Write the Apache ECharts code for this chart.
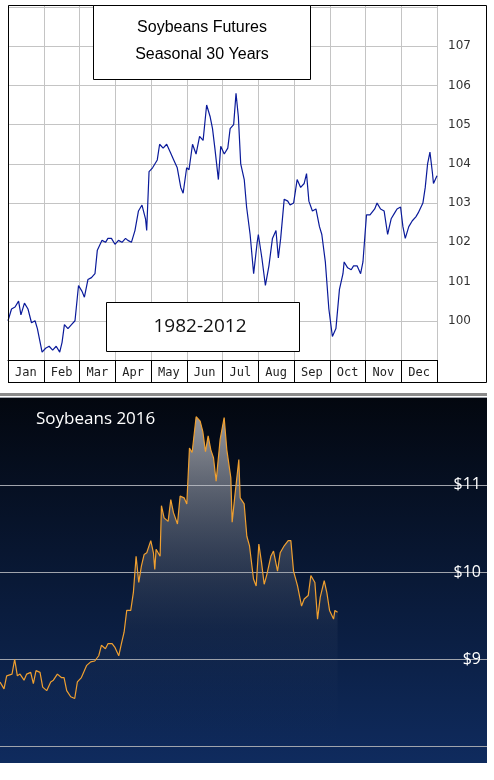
<!DOCTYPE html>
<html>
<head>
<meta charset="utf-8">
<script src="https://cdn.jsdelivr.net/npm/echarts@6/dist/echarts.min.js"></script>
<style>
  html, body { margin: 0; padding: 0; background: #fff; }
  #chart { width: 494px; height: 780px; }
</style>
</head>
<body>
<div id="chart"></div>
<script>
// seasonal 30y (1982-2012), day of year -> index
const months = ['Jan', 'Feb', 'Mar', 'Apr', 'May', 'Jun', 'Jul', 'Aug', 'Sep', 'Oct', 'Nov', 'Dec'];
const seasonDays = [0,3,6,9,11,14,17,20,23,25,27,29,32,35,38,41,44,46,48,51,54,57,60,63,65,68,71,74,76,80,83,85,88,91,94,97,100,102,105,108,111,114,117,118,120,123,127,129,132,135,138,141,144,147,149,152,154,157,160,163,166,169,172,174,176,179,181,184,187,189,192,194,196,198,201,203,206,209,212,213,216,219,222,225,228,230,232,235,238,240,243,246,249,252,254,256,259,262,265,267,270,273,276,279,282,285,286,289,292,294,297,300,302,305,308,312,314,317,320,323,326,329,331,334,336,338,341,344,347,349,353,355,357,359,361,362,365];
const seasonVals = [100.0,100.3,100.35,100.5,100.15,100.45,100.3,99.95,100.0,99.8,99.5,99.2,99.3,99.35,99.25,99.35,99.2,99.45,99.9,99.8,99.9,100.0,100.9,100.75,100.6,101.05,101.1,101.2,101.8,102.05,102.0,102.1,102.1,101.95,102.05,102.0,102.1,102.05,102.0,102.3,102.8,102.95,102.6,102.3,103.8,103.9,104.1,104.5,104.4,104.5,104.3,104.1,103.9,103.4,103.25,103.9,103.85,104.5,104.25,104.7,104.6,105.5,105.2,104.9,104.4,103.6,104.45,104.25,104.4,104.9,105.0,105.8,105.2,104.0,103.6,102.9,102.2,101.2,102.0,102.2,101.6,100.9,101.4,102.1,102.3,101.6,102.1,103.1,103.05,102.95,103.0,103.6,103.4,103.5,103.75,103.05,102.8,102.85,102.4,102.2,101.5,100.3,99.6,99.8,100.8,101.2,101.5,101.35,101.3,101.4,101.4,101.2,101.5,102.7,102.7,102.85,103.0,102.85,102.8,102.2,102.6,102.75,102.85,102.9,102.4,102.1,102.4,102.55,102.65,102.75,103.0,103.4,104.0,104.3,103.8,103.5,103.7];
const seasonTicks = [100, 101, 102, 103, 104, 105, 106, 107];

// soybeans 2016 ($/bu)
const beanDays = [0,3,5,9,11,13,15,18,20,23,25,27,30,32,35,38,40,43,46,48,50,53,56,58,61,65,68,71,74,76,79,81,84,86,89,91,93,95,98,100,102,104,106,108,110,113,115,116,117,120,121,123,126,128,130,133,135,138,140,142,144,147,150,152,154,156,158,160,162,165,168,170,173,174,176,179,180,183,185,187,190,192,194,196,198,200,203,205,208,210,213,216,218,220,223,226,228,231,233,236,238,240,243,245,247,250,251,253];
const beanVals = [8.74,8.66,8.81,8.83,9.0,8.81,8.83,8.76,8.83,8.85,8.72,8.87,8.85,8.68,8.64,8.74,8.76,8.83,8.79,8.79,8.64,8.57,8.55,8.74,8.79,8.93,8.97,8.98,9.04,9.16,9.12,9.18,9.18,9.14,9.04,9.18,9.31,9.56,9.56,9.77,10.18,9.88,10.07,10.20,10.22,10.36,10.22,10.03,10.26,10.18,10.76,10.62,10.58,10.83,10.68,10.55,10.87,10.85,10.78,11.42,11.37,11.78,11.73,11.61,11.38,11.56,11.40,11.31,11.04,11.52,11.77,11.40,11.08,10.57,10.87,11.29,10.85,10.78,10.41,10.30,9.92,9.84,10.32,10.11,9.86,9.97,10.18,10.24,10.01,10.22,10.30,10.36,10.36,10.01,9.84,9.61,9.69,9.73,9.96,9.88,9.46,9.71,9.90,9.76,9.56,9.46,9.56,9.54];
const beanTicks = [9, 10, 11];

const seasonData = seasonDays.map((d, i) => [d, seasonVals[i]]);
const beanData = beanDays.map((d, i) => [d, beanVals[i]]);

const chart = echarts.init(document.getElementById('chart'));
chart.setOption({
  animation: false,
  backgroundColor: '#fff',
  graphic: [
    { type: 'rect', z: -10, shape: { x: 0, y: 397, width: 487, height: 366 },
      style: { fill: new echarts.graphic.LinearGradient(0, 0, 0, 1, [
        { offset: 0, color: '#03070f' }, { offset: 1, color: '#0f2b5e' }]) } },
    { type: 'line', z: 5, shape: { x1: 0, y1: 394.5, x2: 487, y2: 394.5 }, style: { stroke: '#8a8a8a', lineWidth: 3 } },
    { type: 'rect', z: 5, shape: { x: 8.5, y: 5.5, width: 478, height: 377 }, style: { fill: null, stroke: '#000', lineWidth: 1 } },
    { type: 'rect', z: 10, shape: { x: 93.5, y: 5.5, width: 217, height: 74 }, style: { fill: '#fff', stroke: '#000', lineWidth: 1 } },
    { type: 'text', z: 11, x: 202, y: 28, style: { text: 'Soybeans Futures', font: '16px "Liberation Sans"', fill: '#000', align: 'center', verticalAlign: 'middle' } },
    { type: 'text', z: 11, x: 202, y: 55, style: { text: 'Seasonal 30 Years', font: '16px "Liberation Sans"', fill: '#000', align: 'center', verticalAlign: 'middle' } },
    { type: 'rect', z: 10, shape: { x: 106.5, y: 302.5, width: 193, height: 49 }, style: { fill: '#fff', stroke: '#000', lineWidth: 1 } },
    { type: 'text', z: 11, x: 200, y: 327, style: { text: '1982-2012', font: '19px "Open Sans"', fill: '#111', align: 'center', verticalAlign: 'middle' } },
    { type: 'text', z: 11, x: 36, y: 419, style: { text: 'Soybeans 2016', font: '17px "Open Sans"', fill: '#fff', verticalAlign: 'middle' } }
  ],
  grid: [
    { left: 8, top: 5, width: 429, height: 355 },
    { left: 8, top: 5, width: 429, height: 355 },
    { left: 0, top: 397.5, width: 487, height: 349 }
  ],
  xAxis: [
    { type: 'category', gridIndex: 0, data: months, boundaryGap: true,
      axisLine: { lineStyle: { color: '#000', width: 1 } },
      axisTick: { show: true, length: 23, interval: 0, lineStyle: { color: '#000' } },
      axisLabel: { interval: 0, margin: 7, color: '#222', fontFamily: 'DejaVu Sans Mono', fontSize: 12 },
      splitLine: { show: true, interval: 0, lineStyle: { color: '#c4c4c4' } } },
    { type: 'value', gridIndex: 1, min: 0, max: 365, show: false },
    { type: 'value', gridIndex: 2, min: 0, max: 365, show: false }
  ],
  yAxis: [
    { type: 'value', gridIndex: 0, position: 'right', min: 99, max: 108.05, interval: 1,
      axisLine: { show: false }, axisTick: { show: false },
      axisLabel: { margin: 11, color: '#333', fontFamily: 'DejaVu Sans', fontSize: 12,
        formatter: v => seasonTicks.includes(v) ? String(v) : '' },
      splitLine: { lineStyle: { color: '#c4c4c4' } } },
    { type: 'value', gridIndex: 1, min: 99, max: 108.05, show: false },
    { type: 'value', gridIndex: 2, position: 'right', min: 8, max: 12, interval: 1,
      axisLine: { show: false }, axisTick: { show: false },
      axisLabel: { inside: true, margin: 6, color: '#fff', fontFamily: 'Open Sans', fontSize: 16,
        verticalAlign: 'bottom', padding: [0, 0, -8, 0],
        formatter: v => beanTicks.includes(v) ? '$' + v : '' },
      splitLine: { lineStyle: { color: '#a0a4ac', width: 1 } } }
  ],
  series: [
    { type: 'line', xAxisIndex: 1, yAxisIndex: 1, data: seasonData, symbol: 'none',
      lineStyle: { color: '#0a1a9a', width: 1.2 } },
    { type: 'line', xAxisIndex: 2, yAxisIndex: 2, data: beanData, symbol: 'none', z: 3,
      lineStyle: { color: '#f0a030', width: 1.2 },
      areaStyle: { color: new echarts.graphic.LinearGradient(0, 0, 0, 1, [
        { offset: 0, color: 'rgba(225,225,228,0.95)' },
        { offset: 0.65, color: 'rgba(110,120,140,0.12)' },
        { offset: 1, color: 'rgba(20,40,80,0)' }]) } }
  ]
});
</script>
</body>
</html>
